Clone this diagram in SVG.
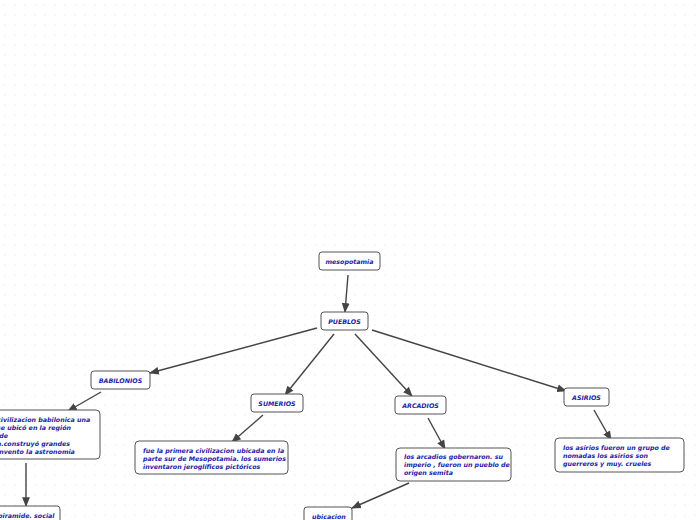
<svg xmlns="http://www.w3.org/2000/svg" width="696" height="520" viewBox="0 0 696 520">
<defs>
<pattern id="dots" width="10" height="10" patternUnits="userSpaceOnUse"><circle cx="5" cy="5" r="0.6" fill="#d4d8dc"/></pattern>
<marker id="ah" viewBox="0 0 10 10" refX="9" refY="5" markerWidth="7" markerHeight="7" orient="auto"><path d="M0,1 L10,5 L0,9 z" fill="#444"/></marker>
</defs>
<style>
.n{fill:#fff;stroke:#555;stroke-width:1}
.t{font-family:"DejaVu Sans",sans-serif;font-size:6.3px;font-weight:bold;font-style:italic;fill:#1c1ca8}
.c line{stroke:#444;stroke-width:1.4;marker-end:url(#ah)}
</style>
<rect width="696" height="520" fill="#fff"/>
<rect width="696" height="520" fill="url(#dots)"/>
<g class="c">
<line x1="348" y1="275" x2="345" y2="312"/>
<line x1="317" y1="328" x2="150" y2="373"/>
<line x1="334" y1="334" x2="285" y2="395"/>
<line x1="355" y1="334" x2="412" y2="396"/>
<line x1="372" y1="330" x2="566" y2="391"/>
<line x1="101" y1="392" x2="68" y2="411"/>
<line x1="263" y1="415" x2="232" y2="442"/>
<line x1="428" y1="418" x2="445" y2="449"/>
<line x1="594" y1="410" x2="611" y2="440"/>
<line x1="26" y1="463" x2="26" y2="506"/>
<line x1="409" y1="483" x2="352" y2="508"/>
</g>
<g id="mesopotamia"><rect class="n" x="319" y="252" width="61" height="18" rx="3"/><text class="t" x="349.5" y="264" text-anchor="middle">mesopotamia</text></g>
<g id="pueblos"><rect class="n" x="321" y="312" width="47" height="18" rx="3"/><text class="t" x="344.5" y="324" text-anchor="middle">PUEBLOS</text></g>
<g id="babilonios"><rect class="n" x="91" y="371" width="59" height="18" rx="3"/><text class="t" x="120.5" y="383" text-anchor="middle">BABILONIOS</text></g>
<g id="sumerios"><rect class="n" x="251" y="394" width="52" height="18" rx="3"/><text class="t" x="277" y="406" text-anchor="middle">SUMERIOS</text></g>
<g id="arcadios"><rect class="n" x="395" y="396" width="51" height="18" rx="3"/><text class="t" x="420.5" y="408" text-anchor="middle">ARCADIOS</text></g>
<g id="asirios"><rect class="n" x="564" y="388" width="45" height="18" rx="3"/><text class="t" x="586.5" y="400" text-anchor="middle">ASIRIOS</text></g>
<g id="babilonios-desc"><rect class="n" x="-5" y="410" width="105" height="49" rx="4"/><text class="t"><tspan x="-3" y="422">civilizacion babilonica una</tspan><tspan x="-3" y="430">se ubicó en la región</tspan><tspan x="-3" y="438"> de</tspan><tspan x="-3" y="446">a.construyó grandes</tspan><tspan x="-3" y="454">invento la astronomia</tspan></text></g>
<g id="sumerios-desc"><rect class="n" x="135" y="441" width="153" height="33" rx="4"/><text class="t"><tspan x="143" y="453">fue la primera civilizacion ubicada en la</tspan><tspan x="143" y="461">parte sur de Mesopotamia. los sumerios</tspan><tspan x="143" y="469">inventaron jeroglíficos pictóricos</tspan></text></g>
<g id="arcadios-desc"><rect class="n" x="396" y="448" width="115" height="33" rx="4"/><text class="t"><tspan x="404" y="459">los arcadios  gobernaron. su</tspan><tspan x="404" y="467">imperio , fueron un pueblo de</tspan><tspan x="404" y="475">origen semita</tspan></text></g>
<g id="asirios-desc"><rect class="n" x="555" y="438" width="129" height="34" rx="4"/><text class="t"><tspan x="563" y="450">los asirios fueron un grupo de</tspan><tspan x="563" y="458">nomadas los asirios son</tspan><tspan x="563" y="466">guerreros y muy. crueles</tspan></text></g>
<g id="piramide"><rect class="n" x="-5" y="506" width="65" height="20" rx="3"/><text class="t" x="-2" y="518">piramide. social</text></g>
<g id="ubicacion"><rect class="n" x="304" y="507" width="48" height="20" rx="3"/><text class="t" x="312" y="519">ubicacion</text></g>
</svg>
